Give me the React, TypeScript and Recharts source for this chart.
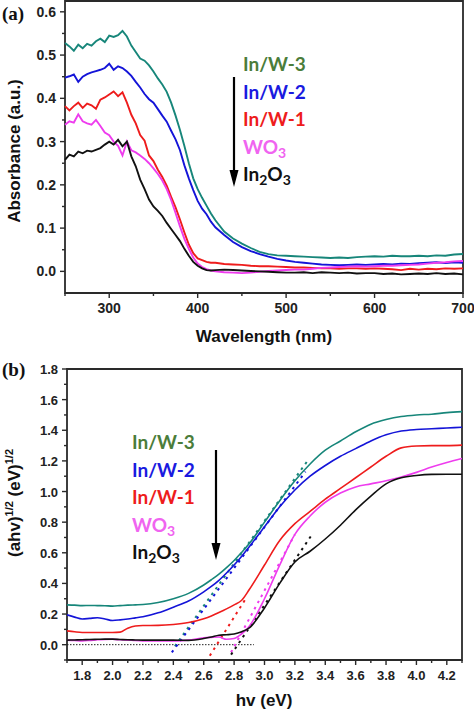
import React from 'react';
import { LineChart, Line, XAxis, YAxis, ReferenceArea } from 'recharts';

// ---- panel (a): absorbance spectra ----
const wavelength = [
  250, 255, 260, 265, 270, 275, 280, 285, 290, 295, 300, 305, 310, 315, 320, 325, 330, 335, 340, 345,
  350, 355, 360, 365, 370, 375, 380, 385, 390, 395, 400, 405, 410, 415, 420,
  430, 440, 450, 460, 470, 480, 490, 500, 510, 520, 530, 540, 550, 560, 570, 580, 590, 600,
  610, 620, 630, 640, 650, 660, 670, 680, 690, 700,
];
const absW3 = [
  0.528, 0.52, 0.51, 0.524, 0.516, 0.526, 0.522, 0.532, 0.538, 0.53, 0.545, 0.542, 0.546, 0.556, 0.543, 0.522, 0.507, 0.492, 0.487, 0.476,
  0.462, 0.446, 0.432, 0.415, 0.39, 0.36, 0.327, 0.29, 0.25, 0.215, 0.19, 0.17, 0.152, 0.134, 0.118,
  0.092, 0.076, 0.064, 0.054, 0.045, 0.04, 0.037, 0.036, 0.035, 0.034, 0.033, 0.032, 0.031, 0.032, 0.031, 0.033, 0.034, 0.035,
  0.034, 0.036, 0.035, 0.035, 0.036, 0.035, 0.037, 0.036, 0.039, 0.04,
];
const absW2 = [
  0.448, 0.451, 0.455, 0.438, 0.45, 0.456, 0.46, 0.463, 0.466, 0.47, 0.48, 0.466, 0.474, 0.47, 0.462, 0.452, 0.438, 0.425, 0.41, 0.398,
  0.39, 0.375, 0.36, 0.346, 0.325, 0.305, 0.28, 0.245, 0.215, 0.188, 0.163, 0.145, 0.132, 0.115, 0.102,
  0.084, 0.068, 0.056, 0.047, 0.04, 0.034, 0.029, 0.025, 0.022, 0.02, 0.018, 0.016, 0.015, 0.014, 0.015, 0.016, 0.015, 0.016,
  0.017, 0.016, 0.018, 0.017, 0.019, 0.02, 0.021, 0.019, 0.021, 0.02,
];
const absW1 = [
  0.382, 0.372, 0.382, 0.39, 0.378, 0.388, 0.384, 0.376, 0.397, 0.402, 0.409, 0.416, 0.405, 0.414, 0.39, 0.362, 0.342, 0.315, 0.302, 0.268,
  0.255, 0.235, 0.218, 0.198, 0.172, 0.148, 0.12, 0.09, 0.062, 0.042, 0.03, 0.026, 0.022, 0.02, 0.02,
  0.017, 0.016, 0.015, 0.013, 0.012, 0.012, 0.011, 0.01, 0.009, 0.009, 0.008, 0.007, 0.007, 0.006, 0.007, 0.007, 0.006, 0.007,
  0.006, 0.005, 0.003, 0.006, 0.004, 0.006, 0.005, 0.007, 0.006, 0.007,
];
const absWO3 = [
  0.339, 0.347, 0.344, 0.363, 0.347, 0.342, 0.339, 0.35, 0.336, 0.321, 0.315, 0.3, 0.29, 0.268, 0.3, 0.28, 0.275, 0.268, 0.26, 0.25,
  0.238, 0.225, 0.21, 0.19, 0.165, 0.135, 0.104, 0.075, 0.052, 0.032, 0.018, 0.01, 0.005, 0.002, 0,
  -0.002, -0.003, -0.004, -0.003, -0.001, 0.001, 0.002, 0.003, 0.004, 0.004, 0.006, 0.008, 0.009, 0.01, 0.011, 0.012, 0.011, 0.012,
  0.013, 0.013, 0.014, 0.015, 0.016, 0.018, 0.02, 0.021, 0.023, 0.024,
];
const absIn2O3 = [
  0.258, 0.27, 0.266, 0.277, 0.273, 0.279, 0.277, 0.281, 0.285, 0.293, 0.3, 0.293, 0.304, 0.289, 0.3, 0.266, 0.243, 0.212, 0.19, 0.166,
  0.15, 0.14, 0.128, 0.112, 0.098, 0.084, 0.07, 0.052, 0.036, 0.022, 0.013, 0.007, 0.003, 0.002, 0.003,
  0.004, 0.003, 0.002, 0.001, 0, -0.001, -0.002, -0.003, -0.003, -0.002, -0.004, -0.002, -0.003, -0.004, -0.003, -0.005, -0.004, -0.004,
  -0.006, -0.005, -0.007, -0.006, -0.005, -0.006, -0.004, -0.006, -0.005, -0.007,
];
const xTicksA = [250, 300, 350, 400, 450, 500, 550, 600, 650, 700];
const yTicksA = [0, 0.05, 0.1, 0.15, 0.2, 0.25, 0.3, 0.35, 0.4, 0.45, 0.5, 0.55, 0.6];

// ---- panel (b): Tauc plot ----
const energy = [
  1.7, 1.75, 1.8, 1.85, 1.9, 1.95, 2.0, 2.05, 2.1, 2.15, 2.2, 2.3, 2.4, 2.5, 2.6, 2.65, 2.7, 2.75, 2.8, 2.85,
  2.9, 3.0, 3.1, 3.2, 3.3, 3.4, 3.5, 3.6, 3.7, 3.8, 3.9, 4.0, 4.1, 4.2, 4.3,
];
const taucW3 = [
  0.26, 0.258, 0.255, 0.256, 0.255, 0.254, 0.252, 0.255, 0.258, 0.26, 0.262, 0.275, 0.3, 0.335, 0.39, 0.424, 0.46, 0.503, 0.55, 0.603,
  0.66, 0.8, 0.94, 1.07, 1.18, 1.27, 1.33, 1.39, 1.44, 1.47, 1.49, 1.5, 1.505, 1.515, 1.522,
];
const taucW2 = [
  0.195, 0.18, 0.168, 0.172, 0.176, 0.168, 0.158, 0.162, 0.168, 0.175, 0.182, 0.208, 0.245, 0.285, 0.345, 0.38, 0.42, 0.468, 0.52, 0.578,
  0.64, 0.77, 0.9, 1.01, 1.1, 1.17, 1.23, 1.28, 1.33, 1.37, 1.395, 1.405, 1.41, 1.415, 1.42,
];
const taucW1 = [
  0.09, 0.084, 0.08, 0.08, 0.08, 0.08, 0.08, 0.082, 0.108, 0.122, 0.125, 0.126, 0.132, 0.145, 0.17, 0.188, 0.21, 0.234, 0.26, 0.29,
  0.36, 0.52, 0.68, 0.79, 0.87, 0.95, 1.02, 1.09, 1.16, 1.23, 1.285, 1.297, 1.3, 1.3, 1.303,
];
const taucWO3 = [
  0.03, 0.028, 0.025, 0.028, 0.032, 0.034, 0.035, 0.032, 0.03, 0.027, 0.025, 0.024, 0.025, 0.03, 0.045, 0.048, 0.05, 0.035, 0.04, 0.07,
  0.12, 0.3, 0.52, 0.72, 0.84, 0.93, 0.99, 1.03, 1.05, 1.07, 1.095, 1.125, 1.16, 1.19, 1.216,
];
const taucIn2O3 = [
  0.03, 0.031, 0.032, 0.034, 0.035, 0.036, 0.036, 0.034, 0.032, 0.031, 0.03, 0.03, 0.03, 0.028, 0.04, 0.05, 0.062, 0.065, 0.07, 0.085,
  0.11, 0.24, 0.4, 0.54, 0.61, 0.69, 0.78, 0.88, 0.97, 1.05, 1.09, 1.105, 1.112, 1.113, 1.113,
];
// tangent (extrapolation) segments, [x, y] end points
const fitW3 = [[2.41, -0.01], [3.29, 1.21]];
const fitW2 = [[2.39, -0.05], [3.27, 1.13]];
const fitW1 = [[2.64, -0.072], [2.87, 0.29]];
const fitWO3 = [[2.78, -0.05], [3.2, 0.72]];
const fitIn2O3 = [[2.78, -0.065], [3.32, 0.73]];
const baseline = [[1.7, 0], [2.93, 0]];
const xTicksB = [1.7, 1.8, 1.9, 2.0, 2.1, 2.2, 2.3, 2.4, 2.5, 2.6, 2.7, 2.8, 2.9, 3.0, 3.1, 3.2, 3.3, 3.4, 3.5, 3.6, 3.7, 3.8, 3.9, 4.0, 4.1, 4.2, 4.3];
const yTicksB = [-0.1, 0, 0.1, 0.2, 0.3, 0.4, 0.5, 0.6, 0.7, 0.8, 0.9, 1.0, 1.1, 1.2, 1.3, 1.4, 1.5, 1.6, 1.7, 1.8];

const names = ['In/W-3', 'In/W-2', 'In/W-1', 'WO3', 'In2O3'];
const lineColors = ['#17867a', '#1414d8', '#ee1c1c', '#ee3cee', '#111111'];
const textColors = ['#4b7d3a', '#1a1ae0', '#ee1c1c', '#f064f0', '#111111'];

const dataA = wavelength.map((x, i) => ({ x, w3: absW3[i], w2: absW2[i], w1: absW1[i], wo3: absWO3[i], ino: absIn2O3[i] }));
const dataB = energy.map((x, i) => ({ x, w3: taucW3[i], w2: taucW2[i], w1: taucW1[i], wo3: taucWO3[i], ino: taucIn2O3[i] }));
const seg = (pts: number[][]) => pts.map(([x, y]) => ({ x, y }));
const keys = ['w3', 'w2', 'w1', 'wo3', 'ino'];

const AX = '#2a2a2a';
const tickFont = { fontFamily: '"Liberation Sans", Arial, sans-serif', fontWeight: 700, fill: '#222' };
const isTenth = (v: number, step: number) => Math.abs(v / step - Math.round(v / step)) < 1e-6;

const makeXTick = (isMajor: (v: number) => boolean, fmt: (v: number) => string, size: number) => (props: any) => {
  const { x, y, payload } = props;
  const major = isMajor(payload.value);
  return (
    <g>
      <line x1={x} x2={x} y1={y} y2={y + (major ? 5 : 3)} stroke={AX} strokeWidth={1.4} />
      {major && (
        <text x={x} y={y + 20} textAnchor="middle" fontSize={size} {...tickFont}>{fmt(payload.value)}</text>
      )}
    </g>
  );
};
const makeYTick = (isMajor: (v: number) => boolean, size: number) => (props: any) => {
  const { x, y, payload } = props;
  const major = isMajor(payload.value);
  return (
    <g>
      <line x1={x} x2={x - (major ? 5 : 3)} y1={y} y2={y} stroke={AX} strokeWidth={1.4} />
      {major && (
        <text x={x - 9} y={y + 5} textAnchor="end" fontSize={size} {...tickFont}>{payload.value.toFixed(1)}</text>
      )}
    </g>
  );
};

const legendFont = { fontFamily: 'Lato, "Open Sans", sans-serif', fontWeight: 700, fontSize: 19 };

function LegendBlock({ x, y, arrowX, arrowTop, arrowBottom }: any) {
  return (
    <g>
      <line x1={arrowX} x2={arrowX} y1={arrowTop} y2={arrowBottom - 14} stroke="#000" strokeWidth={2.2} />
      <polygon points={`${arrowX - 4.5},${arrowBottom - 17} ${arrowX + 4.5},${arrowBottom - 17} ${arrowX},${arrowBottom}`} fill="#000" />
      {names.map((n, i) => (
        <text key={n} x={x} y={y + i * 27.5} fill={textColors[i]} {...legendFont}>
          {n === 'WO3' ? (<>WO<tspan fontSize={14} dy={4}>3</tspan></>) :
            n === 'In2O3' ? (<>In<tspan fontSize={14} dy={4}>2</tspan><tspan dy={-4}>O</tspan><tspan fontSize={14} dy={4}>3</tspan></>) : n}
        </text>
      ))}
    </g>
  );
}

export default function App() {
  const titleFont = { fontFamily: '"Liberation Sans", Arial, sans-serif', fontWeight: 700, fontSize: 17, fill: '#111' };
  return (
    <div style={{ position: 'absolute', left: 0, top: 0, width: 474, height: 709, background: '#fff' }}>
      <LineChart width={474} height={320} data={dataA} margin={{ top: 1, right: 11, bottom: 0, left: 0 }}>
        <ReferenceArea x1={250} x2={700} y1={-0.05} y2={0.625} fill="none" stroke={AX} strokeWidth={1.8} ifOverflow="visible" />
        <XAxis dataKey="x" type="number" domain={[250, 700]} ticks={xTicksA} interval={0} height={27}
          axisLine={false} tickLine={false} tickSize={0} tickMargin={0}
          tick={makeXTick((v) => v % 100 === 0, (v) => String(v), 14)} />
        <YAxis type="number" domain={[-0.05, 0.625]} ticks={yTicksA} interval={0} width={65} allowDataOverflow
          axisLine={false} tickLine={false} tickSize={0} tickMargin={0}
          tick={makeYTick((v) => isTenth(v, 0.1), 14)} />
        {keys.map((k, i) => (
          <Line key={k} dataKey={k} type="linear" stroke={lineColors[i]} strokeWidth={1.9} dot={false} isAnimationActive={false} />
        ))}
      </LineChart>

      <div style={{ position: 'absolute', left: 0, top: 345 }}>
        <LineChart width={474} height={364} margin={{ top: 24, right: 12, bottom: 0, left: 0 }}>
          <ReferenceArea x1={1.7} x2={4.3} y1={-0.1} y2={1.8} fill="none" stroke={AX} strokeWidth={1.8} ifOverflow="visible" />
          <XAxis dataKey="x" type="number" domain={[1.7, 4.3]} ticks={xTicksB} interval={0} height={49} allowDataOverflow
            axisLine={false} tickLine={false} tickSize={0} tickMargin={0}
            tick={makeXTick((v) => isTenth(v, 0.2), (v) => v.toFixed(1), 13)} />
          <YAxis type="number" domain={[-0.1, 1.8]} ticks={yTicksB} interval={0} width={67} allowDataOverflow
            axisLine={false} tickLine={false} tickSize={0} tickMargin={0}
            tick={makeYTick((v) => isTenth(v, 0.2), 13)} />
          <Line data={seg(baseline)} dataKey="y" stroke="#222" strokeWidth={1} strokeDasharray="1.5 1.5" dot={false} isAnimationActive={false} />
          {[fitW3, fitW2, fitW1, fitWO3, fitIn2O3].map((f, i) => (
            <Line key={'fit' + i} data={seg(f)} dataKey="y" stroke={lineColors[i]} strokeWidth={2} strokeDasharray="2.5 4.5" dot={false} isAnimationActive={false} />
          ))}
          {keys.map((k, i) => (
            <Line key={k} data={dataB} dataKey={k} type="monotone" stroke={lineColors[i]} strokeWidth={1.6} dot={false} isAnimationActive={false} />
          ))}
        </LineChart>
      </div>

      <svg width={474} height={709} style={{ position: 'absolute', left: 0, top: 0, pointerEvents: 'none' }}>
        <text x={2} y={20} fontFamily='"Liberation Serif", "Times New Roman", serif' fontWeight={700} fontSize={19} fill="#111">(a)</text>
        <text x={2} y={376} fontFamily='"Liberation Serif", "Times New Roman", serif' fontWeight={700} fontSize={19} fill="#111">(b)</text>

        <text x={264} y={342} textAnchor="middle" {...titleFont}>Wavelength (nm)</text>
        <text x={264} y={706} textAnchor="middle" {...titleFont}>hv (eV)</text>
        <text transform="translate(20,151) rotate(-90)" textAnchor="middle" {...titleFont}>Absorbance (a.u.)</text>
        <text transform="translate(20,503) rotate(-90)" textAnchor="middle" {...titleFont}>
          (ahv)<tspan fontSize={11} dy={-7}>1/2</tspan><tspan dy={7}> (eV)</tspan><tspan fontSize={11} dy={-7}>1/2</tspan>
        </text>

        <LegendBlock x={243} y={71} arrowX={234} arrowTop={77} arrowBottom={187} />
        <LegendBlock x={132} y={449} arrowX={216} arrowTop={450} arrowBottom={560} />
      </svg>
    </div>
  );
}
